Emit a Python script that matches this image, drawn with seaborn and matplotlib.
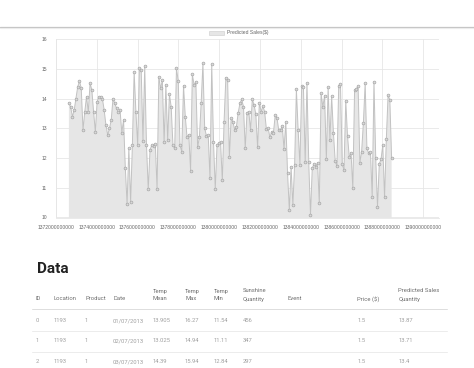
import numpy as np
import pandas as pd
import matplotlib
matplotlib.use("Agg")
import matplotlib.pyplot as plt
import seaborn as sns
from matplotlib.lines import Line2D
from matplotlib.patches import Rectangle

# ---------------- data ----------------
sales_a = [13.87, 13.71, 13.40, 13.62, 14.00, 14.40, 14.60, 14.35, 12.95, 13.56, 14.07, 13.56,
           14.52, 14.30, 13.56, 12.89, 13.90, 14.07, 14.07, 14.00, 13.62, 13.11, 12.78]
sales_b = [13.00, 13.28, 14.00, 13.85, 13.68, 13.54, 13.62, 12.86, 13.28, 11.66, 10.45, 12.33,
           10.53, 12.44, 14.91, 13.56, 12.44, 15.02, 14.97, 12.58, 15.10, 12.44, 10.95]
sales_c = [12.28, 12.43, 12.40, 12.48, 10.96, 14.74, 14.35, 14.63, 12.53, 14.46, 12.61, 14.15,
           13.73, 12.44, 12.33, 15.02, 14.60]
sales_d = [12.44, 12.22, 14.44, 13.40, 12.70, 12.78,
           11.58, 14.82, 14.46, 14.55, 12.36, 12.71,
           13.85, 15.19, 13.00, 12.75, 12.78, 11.32,
           15.16, 12.55, 10.97, 12.44, 12.50, 12.53,
           11.25, 13.23, 14.70, 14.64, 12.05, 13.34,
           13.23, 12.95, 13.06, 13.53, 13.84, 13.98,
           13.73, 12.33, 13.53, 13.56, 12.95, 13.98,
           13.79, 13.48, 12.36, 13.87, 13.56, 13.75,
           13.56, 12.97, 13.00, 12.70, 12.89, 12.86,
           13.45, 13.34, 12.95, 12.95, 13.08, 12.30,
           13.23, 11.49, 10.25, 11.71, 10.42, 11.77,
           14.32, 12.95, 11.77, 14.43, 14.38, 11.88,
           14.54, 11.88, 10.10, 11.66, 11.80, 11.70,
           11.85, 10.48, 14.18, 13.73, 14.09, 11.96,
           14.38, 12.61, 14.09, 12.86, 11.91, 11.73,
           14.43, 14.50, 11.80, 11.60, 13.93, 12.74,
           12.03, 12.18, 10.98, 14.29, 14.32, 14.43,
           11.85, 12.22, 13.19, 14.52, 12.33, 12.16,
           12.22, 10.70, 14.57, 11.99, 10.36, 11.80,
           11.96, 12.44, 10.68, 12.63, 14.12, 13.96,
           11.99]
predicted_sales = sales_a + sales_b + sales_c + sales_d
start_date = "2013-07-01"

x_ticks = [1372000000000 + 2000000000 * i for i in range(10)]
y_ticks = [10, 11, 12, 13, 14, 15, 16]
x_min, x_max = 1372000000000, 1390770000000

table_headers = [["ID"], ["Location"], ["Product"], ["Date"], ["Temp", "Mean"], ["Temp", "Max"],
                 ["Temp", "Min"], ["Sunshine", "Quantity"], ["Event"], ["Price ($)"],
                 ["Predicted Sales", "Quantity"]]
table_rows = [
    ["0", "1193", "1", "01/07/2013", "13.905", "16.27", "11.54", "456", "", "1.5", "13.87"],
    ["1", "1193", "1", "02/07/2013", "13.025", "14.94", "11.11", "347", "", "1.5", "13.71"],
    ["2", "1193", "1", "03/07/2013", "14.39", "15.94", "12.84", "297", "", "1.5", "13.4"],
]

# ---------------- figure ----------------
W, H = 474, 368
sns.set_theme(style="white")
plt.rcParams["font.family"] = ["Liberation Sans", "DejaVu Sans"]

fig = plt.figure(figsize=(W / 100, H / 100), dpi=100)
fig.patch.set_facecolor("white")


def P(x, y):
    return (x / W, 1 - y / H)


L, R, T, B = 55.9, 439.0, 39.3, 217.5
ax = fig.add_axes([L / W, 1 - B / H, (R - L) / W, (B - T) / H])

dates = pd.date_range(start_date, periods=len(predicted_sales), freq="D")
ms = (dates.asi8 // 10**6).astype(float)
df = pd.DataFrame({"t": ms, "Predicted Sales($)": predicted_sales})

grid_c = "#e6e6e6"
ax.fill_between(df["t"], df["Predicted Sales($)"], 0, color="#e6e6e6", lw=0, zorder=1)
sns.lineplot(data=df, x="t", y="Predicted Sales($)", ax=ax, color="#c2c2c2", lw=0.7,
             marker="o", markersize=2.0, markerfacecolor="#d9d9d9", markeredgecolor="#a8a8a8",
             markeredgewidth=0.5, zorder=3, legend=False)

ax.set_xlim(x_min, x_max)
ax.set_ylim(10, 16)
ax.set_xticks(x_ticks)
ax.set_xticklabels([f"{v:d}" for v in x_ticks])
ax.set_yticks(y_ticks)
ax.set_yticklabels([str(v) for v in y_ticks])
ax.set_xlabel("")
ax.set_ylabel("")
ax.grid(True, color=grid_c, lw=0.6)
ax.set_axisbelow(True)
for s in ["top", "right"]:
    ax.spines[s].set_visible(False)
for s in ["left", "bottom"]:
    ax.spines[s].set_color(grid_c)
    ax.spines[s].set_linewidth(0.6)
ax.tick_params(axis="both", length=3.8, width=0.6, color=grid_c, labelcolor="#666666",
               labelsize=3.6, pad=1.5)
ax.tick_params(axis="y", pad=2.5)
for lab in ax.get_xticklabels() + ax.get_yticklabels():
    lab.set_fontfamily(["Liberation Sans", "DejaVu Sans"])

# legend
fig.patches.append(Rectangle(P(209, 34.7), 15 / W, 4 / H, transform=fig.transFigure,
                             facecolor="#e6e6e6", edgecolor="#cccccc", lw=0.4))
fig.text(*P(227, 32.6), "Predicted Sales($)", fontsize=3.6, color="#666666",
         va="center", ha="left")

# top page divider
fig.add_artist(Line2D([0, 1], [1 - 26.7 / H] * 2, color="#c4c4c4", lw=0.9))
fig.add_artist(Line2D([0, 1], [1 - 28.0 / H] * 2, color="#ececec", lw=0.8))

# ---------------- table ----------------
tfont = ["Roboto", "DejaVu Sans"]
fig.text(*P(36.5, 269), "Data", fontsize=11, fontweight="bold", color="#212121",
         family=tfont, va="center", ha="left")

col_x = [36, 54, 85, 113, 152.7, 185, 214, 242.7, 287.3, 357.3, 398.3]
for cx, hdr in zip(col_x, table_headers):
    lines = hdr if len(hdr) == 2 else [""] + hdr
    for ly, txt in zip([291, 299], lines):
        if txt:
            fig.text(*P(cx, ly), txt, fontsize=4.2, color="#6f6f6f", family=tfont,
                     va="center", ha="left")

fig.add_artist(Line2D([32 / W, 446.7 / W], [1 - 309.3 / H] * 2, color="#dddddd", lw=0.7))
row_y = [320.7, 340.7, 361.7]
sep_y = [330.7, 351.7]
for ry, row in zip(row_y, table_rows):
    for cx, txt in zip(col_x, row):
        if txt:
            fig.text(*P(cx, ry), txt, fontsize=4.2, color="#a0a0a0", family=tfont,
                     va="center", ha="left")
for sy in sep_y:
    fig.add_artist(Line2D([32 / W, 446.7 / W], [1 - sy / H] * 2, color="#ececec", lw=0.7))

fig.savefig("out.png", dpi=100, facecolor="white")
